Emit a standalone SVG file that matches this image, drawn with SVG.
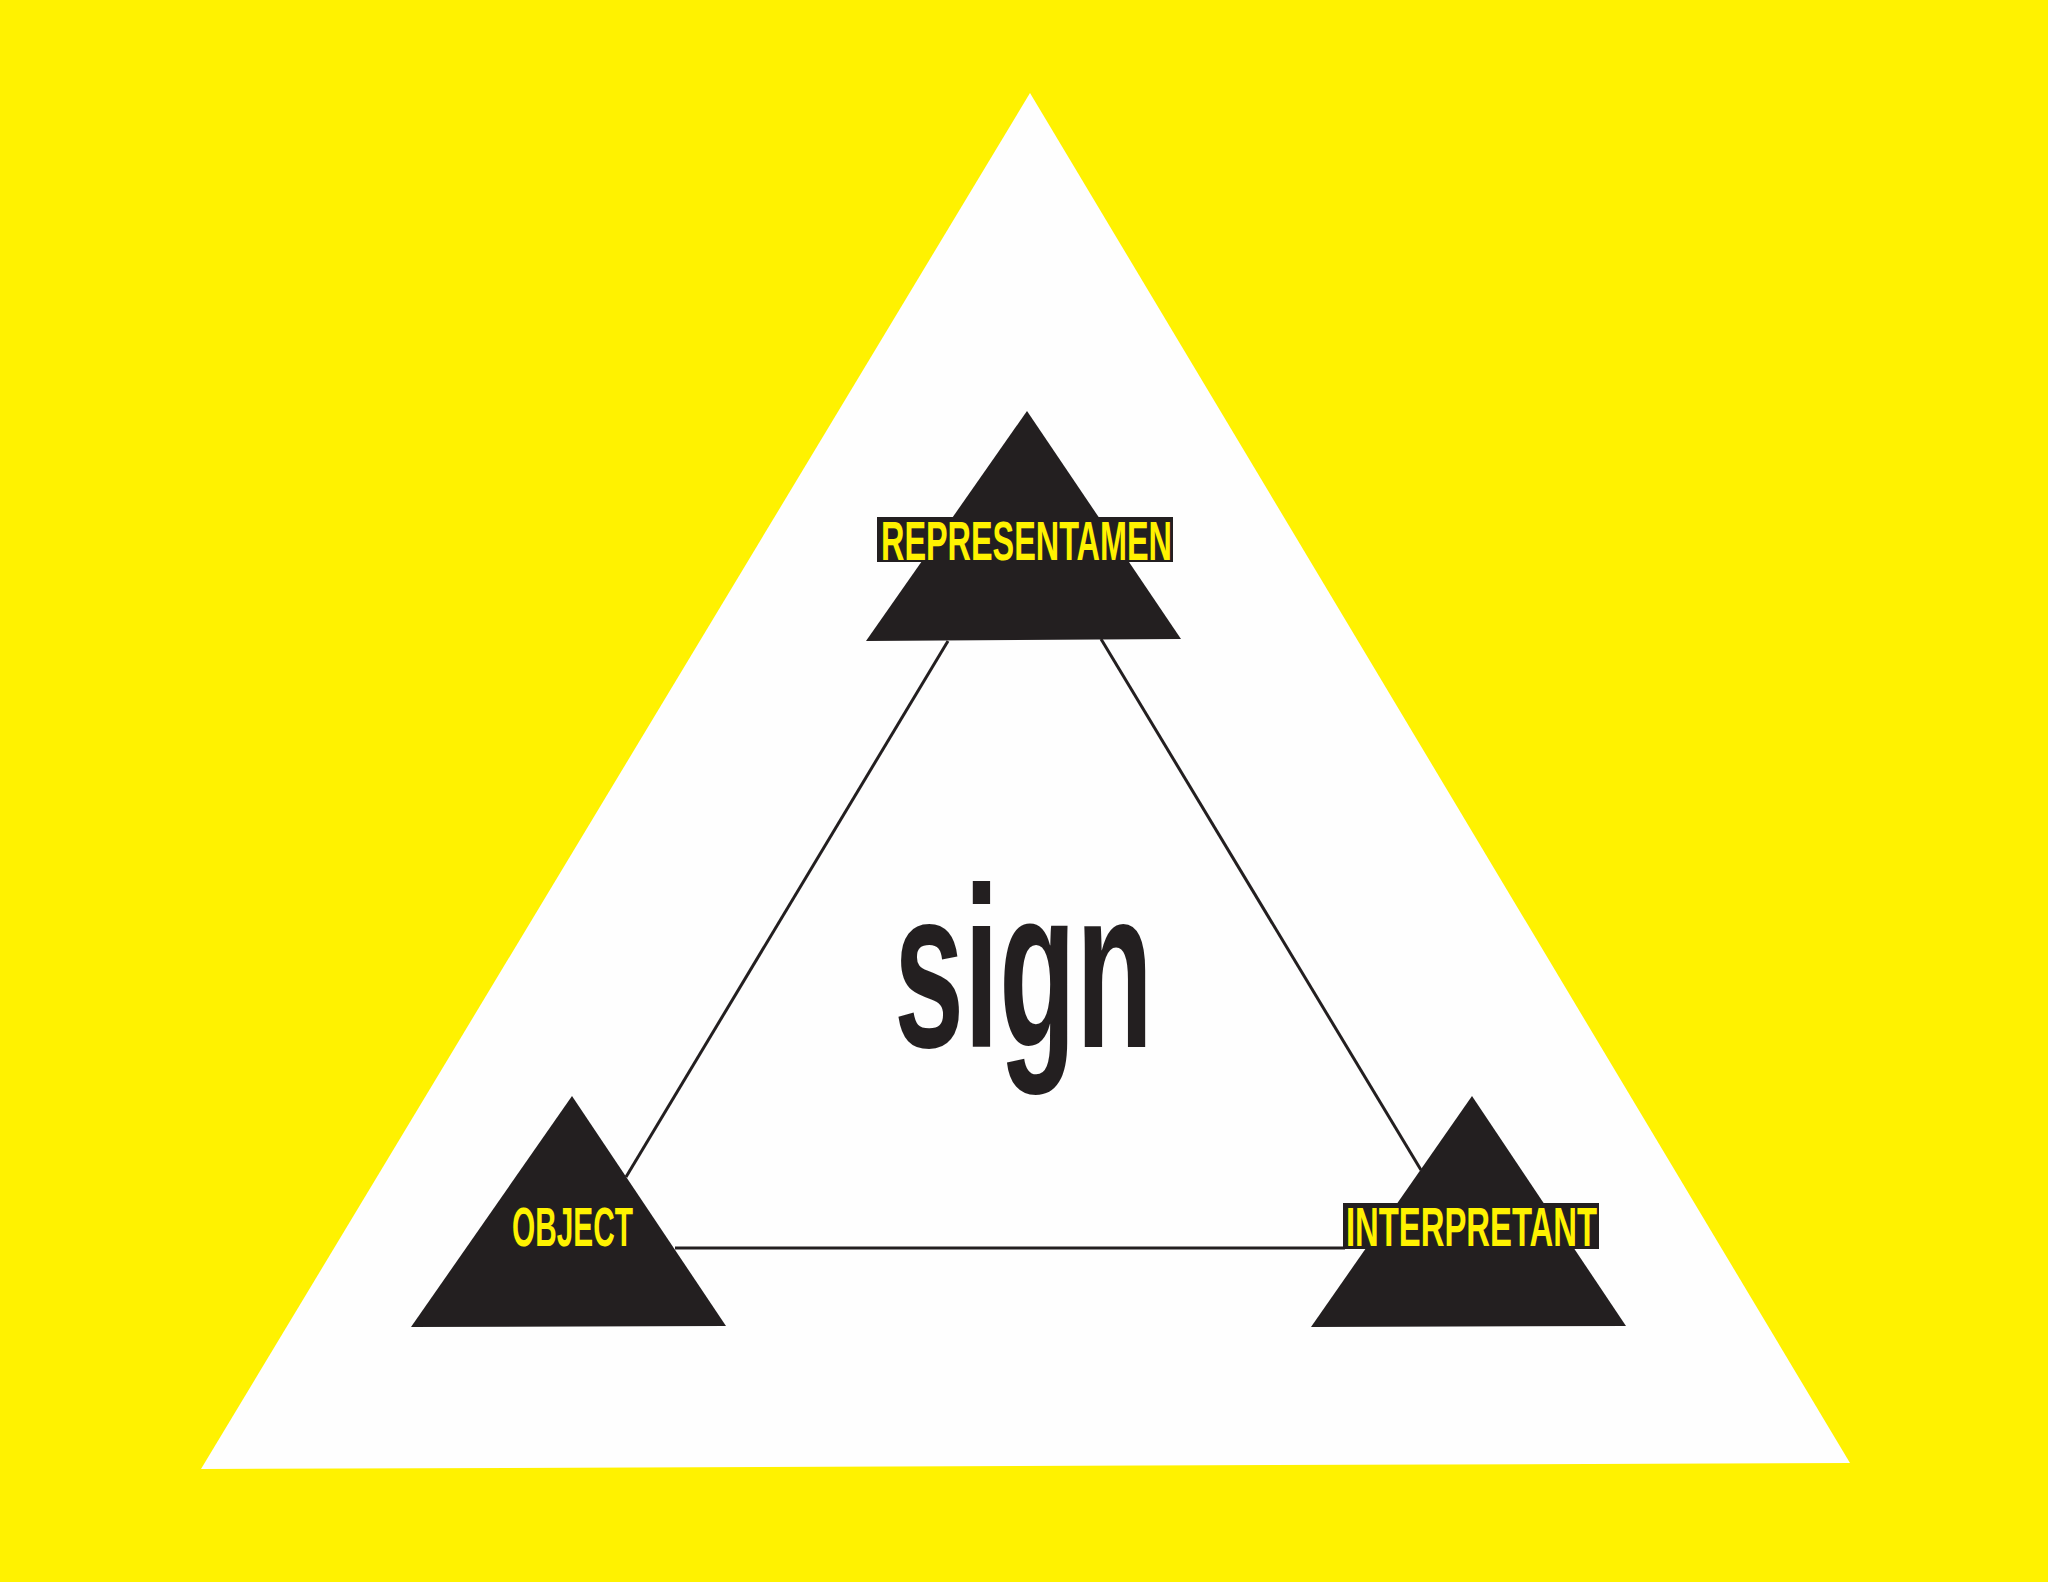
<svg xmlns="http://www.w3.org/2000/svg" width="2048" height="1582" viewBox="0 0 2048 1582">
<style>
.node{fill:#231f20}
.lbl{font-family:"Liberation Sans",Arial,sans-serif;font-weight:bold;font-size:55px;fill:#fff200}
.conn{stroke:#231f20;stroke-width:3;fill:none}
</style>
<rect width="2048" height="1582" fill="#fff200"/>
<polygon points="1030,93 201,1469 1850,1463" fill="#fefefe"/>
<g id="connectors">
<line class="conn" x1="948" y1="641" x2="626" y2="1177"/>
<line class="conn" x1="1101" y1="639" x2="1421" y2="1170"/>
<line class="conn" x1="675" y1="1248" x2="1345" y2="1248"/>
</g>
<g id="representamen">
<polygon class="node" points="1027,411 866,641 1181,639"/>
<rect x="877" y="517" width="296" height="45" class="node"/>
<text class="lbl" x="881" y="560" textLength="291" lengthAdjust="spacingAndGlyphs">REPRESENTAMEN</text>
</g>
<g id="object">
<polygon class="node" points="572,1096 411,1327 726,1326"/>
<text class="lbl" x="512" y="1246" textLength="121" lengthAdjust="spacingAndGlyphs">OBJECT</text>
</g>
<g id="interpretant">
<polygon class="node" points="1472,1096 1311,1327 1626,1326"/>
<rect x="1343" y="1203" width="256" height="46" class="node"/>
<text class="lbl" x="1346" y="1246" textLength="251" lengthAdjust="spacingAndGlyphs">INTERPRETANT</text>
</g>
<g id="sign">
<text x="894" y="1047" font-family="'Liberation Sans',Arial,sans-serif" font-weight="bold" font-size="228" fill="#231f20" textLength="259" lengthAdjust="spacingAndGlyphs">sign</text>
</g>
</svg>
